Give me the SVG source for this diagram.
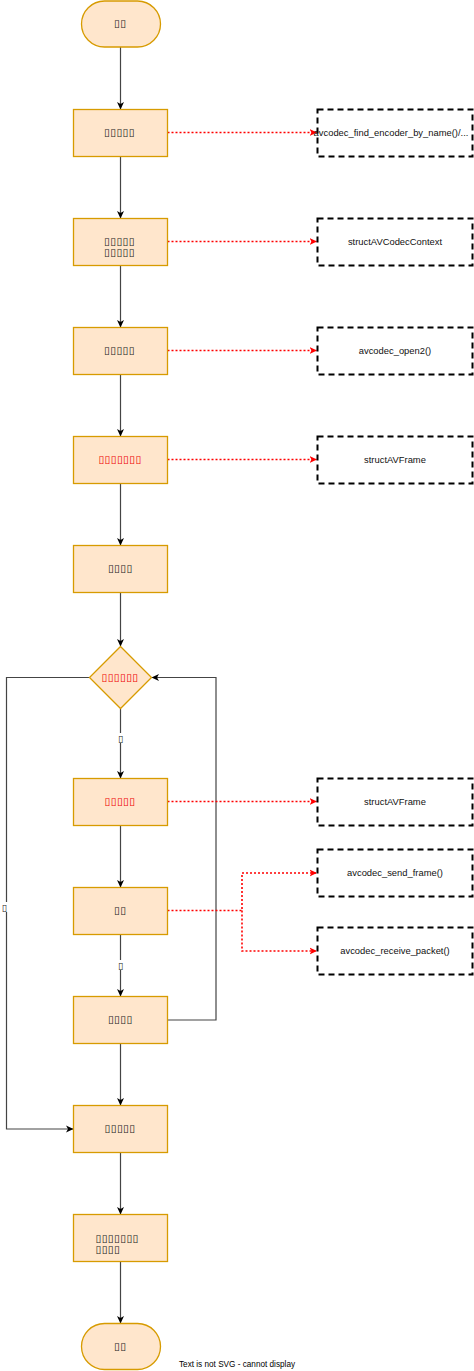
<svg xmlns="http://www.w3.org/2000/svg" width="474" height="1371" viewBox="0 0 474 1371">
<style>
.n{fill:#ffe6cc;stroke:#d79b00;stroke-width:1.3}
.d{fill:#fff;stroke:#000;stroke-width:2;stroke-dasharray:6 4}
.t{font-family:"DejaVu Sans",sans-serif;font-size:10.5px;letter-spacing:0.4px;fill:#222;text-anchor:middle}
.r{fill:#e00}
.f{font-family:"Liberation Sans",Arial,sans-serif;font-size:9.4px;fill:#111;text-anchor:middle}
.e{fill:none;stroke:#444;stroke-width:1.2}
.x{fill:none;stroke:#f00;stroke-width:1.6;stroke-dasharray:2 2}
.lb{fill:#fff}
.w{font-family:"Liberation Sans",Arial,sans-serif;font-size:8.2px;fill:#000}
</style>
<defs>
<marker id="a" markerWidth="8" markerHeight="8" refX="7" refY="4" orient="auto" markerUnits="userSpaceOnUse"><path d="M0,0.5 L7.5,4 L0,7.5 L2,4 Z" fill="#000"/></marker>
<marker id="ar" markerWidth="8" markerHeight="8" refX="7" refY="4" orient="auto" markerUnits="userSpaceOnUse"><path d="M0,0.5 L7.5,4 L0,7.5 L2,4 Z" fill="#f00"/></marker>
</defs>
<g id="connectors">
<path class="e" d="M120.5,47 V109" marker-end="url(#a)"/>
<path class="e" d="M120.5,156.5 V218" marker-end="url(#a)"/>
<path class="e" d="M120.5,265.5 V327" marker-end="url(#a)"/>
<path class="e" d="M120.5,374.5 V436" marker-end="url(#a)"/>
<path class="e" d="M120.5,483.5 V545" marker-end="url(#a)"/>
<path class="e" d="M120.5,592.5 V646" marker-end="url(#a)"/>
<path class="e" d="M120.5,708.5 V778" marker-end="url(#a)"/>
<path class="e" d="M120.5,825.5 V887" marker-end="url(#a)"/>
<path class="e" d="M120.5,934.5 V996" marker-end="url(#a)"/>
<path class="e" d="M120.5,1043.5 V1105" marker-end="url(#a)"/>
<path class="e" d="M120.5,1152.5 V1214" marker-end="url(#a)"/>
<path class="e" d="M120.5,1261.5 V1323" marker-end="url(#a)"/>
<path class="e" d="M89.5,677.5 H6.5 V1129 H73" marker-end="url(#a)"/>
<path class="e" d="M167.5,1020 H216 V677.5 H152" marker-end="url(#a)"/>
<path class="x" d="M167.5,132.5 H316.5" marker-end="url(#ar)"/>
<path class="x" d="M167.5,241.5 H316.5" marker-end="url(#ar)"/>
<path class="x" d="M167.5,350.5 H316.5" marker-end="url(#ar)"/>
<path class="x" d="M167.5,459.5 H316.5" marker-end="url(#ar)"/>
<path class="x" d="M167.5,801.5 H316.5" marker-end="url(#ar)"/>
<path class="x" d="M167.5,910.5 H242 V873 H316.5" marker-end="url(#ar)"/>
<path class="x" d="M242,910.5 V951 H316.5" marker-end="url(#ar)"/>
<rect class="lb" x="117" y="733" width="7" height="10"/>
<text class="t" x="120.7" y="741.5" style="font-size:9.5px">▯</text>
<rect class="lb" x="117" y="960" width="7" height="10"/>
<text class="t" x="120.7" y="968.5" style="font-size:9.5px">▯</text>
<rect class="lb" x="1" y="902" width="7" height="10"/>
<text class="t" x="4.5" y="910.5" style="font-size:9.5px">▯</text>
</g>
<g id="start"><rect class="n" x="81.5" y="1" width="79" height="46" rx="23"/><text class="t" x="120.2" y="27">▯▯</text></g>
<g id="box1"><rect class="n" x="73.5" y="109.5" width="94" height="47"/><text class="t" x="119.5" y="136">▯▯▯▯▯</text></g>
<g id="box2"><rect class="n" x="73.5" y="218.5" width="94" height="47"/><text class="t" x="119.5" y="244.5">▯▯▯▯▯</text><text class="t" x="119.5" y="255.5">▯▯▯▯▯</text></g>
<g id="box3"><rect class="n" x="73.5" y="327.5" width="94" height="47"/><text class="t" x="119.5" y="354">▯▯▯▯▯</text></g>
<g id="box4"><rect class="n" x="73.5" y="436.5" width="94" height="47"/><text class="t r" x="120" y="463">▯▯▯▯▯▯▯</text></g>
<g id="box5"><rect class="n" x="73.5" y="545.5" width="94" height="47"/><text class="t" x="120.3" y="572">▯▯▯▯</text></g>
<g id="decision"><path class="n" d="M120.5,646.5 L151.5,677.5 L120.5,708.5 L89.5,677.5 Z"/><text class="t r" x="120" y="680.5">▯▯▯▯▯▯</text></g>
<g id="box6"><rect class="n" x="73.5" y="778.5" width="94" height="47"/><text class="t r" x="120" y="805">▯▯▯▯▯</text></g>
<g id="box7"><rect class="n" x="73.5" y="887.5" width="94" height="47"/><text class="t" x="120.2" y="914">▯▯</text></g>
<g id="box8"><rect class="n" x="73.5" y="996.5" width="94" height="47"/><text class="t" x="120.3" y="1023">▯▯▯▯</text></g>
<g id="box9"><rect class="n" x="73.5" y="1105.5" width="94" height="47"/><text class="t" x="120" y="1132">▯▯▯▯▯</text></g>
<g id="box10"><rect class="n" x="73.5" y="1214.5" width="94" height="47"/><text class="t" x="95.5" y="1241.5" style="text-anchor:start">▯▯▯▯▯▯▯</text><text class="t" x="95.5" y="1252.5" style="text-anchor:start">▯▯▯▯</text></g>
<g id="end"><rect class="n" x="81.5" y="1323.5" width="79" height="46" rx="23"/><text class="t" x="120.2" y="1349.5">▯▯</text></g>
<g id="api1"><rect class="d" x="317.5" y="109.5" width="155" height="47"/><text class="f" x="391" y="136">avcodec_find_encoder_by_name()/...</text></g>
<g id="api2"><rect class="d" x="317.5" y="218.5" width="155" height="47"/><text class="f" x="395" y="245">structAVCodecContext</text></g>
<g id="api3"><rect class="d" x="317.5" y="327.5" width="155" height="47"/><text class="f" x="395" y="354">avcodec_open2()</text></g>
<g id="api4"><rect class="d" x="317.5" y="436.5" width="155" height="47"/><text class="f" x="395" y="463">structAVFrame</text></g>
<g id="api5"><rect class="d" x="317.5" y="778.5" width="155" height="47"/><text class="f" x="395" y="805">structAVFrame</text></g>
<g id="api6"><rect class="d" x="317.5" y="849.5" width="155" height="47"/><text class="f" x="395" y="876">avcodec_send_frame()</text></g>
<g id="api7"><rect class="d" x="317.5" y="927.5" width="155" height="47"/><text class="f" x="395" y="954">avcodec_receive_packet()</text></g>
<text class="w" x="179" y="1367">Text is not SVG - cannot display</text>
</svg>
